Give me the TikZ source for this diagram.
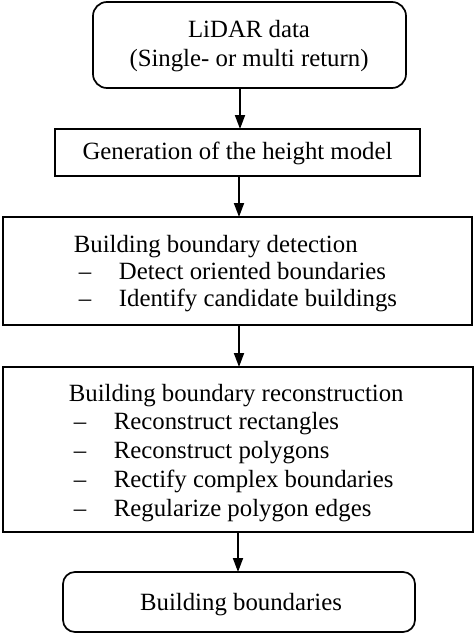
\documentclass[tikz,border=0pt]{standalone}
\usepackage{fontspec}
\setmainfont{Liberation Serif}
\usetikzlibrary{arrows.meta}
\begin{document}
\begin{tikzpicture}[x=1pt,y=-1pt,line width=1.7pt,
  box/.style={draw,inner sep=0pt,outer sep=0pt},
  rbox/.style={box,rounded corners=14pt},
  txt/.style={inner sep=0pt,font=\fontsize{24.8}{29}\selectfont},
  arr/.style={-{Triangle[length=14pt,width=10pt]},line width=1.8pt}]
\useasboundingbox (0,0) rectangle (474,635);
% boxes
\node[rbox,minimum width=313pt,minimum height=86pt] (b1) at (249.5,45) {};
\node[box,minimum width=365pt,minimum height=47pt] (b2) at (237.5,152.5) {};
\node[box,minimum width=469pt,minimum height=108pt] (b3) at (237.5,271) {};
\node[box,minimum width=470pt,minimum height=165pt] (b4) at (238,449.5) {};
\node[rbox,rounded corners=12pt,minimum width=352pt,minimum height=60pt] (b5) at (239,602) {};
% texts
\node[txt,anchor=base] (t1a) at (249,37.5) {LiDAR data};
\node[txt,anchor=base] (t1b) at (249,66.5) {(Single- or multi return)};
\node[txt,anchor=base] (t2) at (237.5,159) {Generation of the height model};
\node[txt,anchor=base west] (t3) at (73,252) {Building boundary detection};
\node[txt,anchor=base west] (d31) at (78,279) {–};
\node[txt,anchor=base west] (i31) at (118,279) {Detect oriented boundaries};
\node[txt,anchor=base west] (d32) at (78,306.5) {–};
\node[txt,anchor=base west] (i32) at (118,306.5) {Identify candidate buildings};
\node[txt,anchor=base west] (t4) at (68,401) {Building boundary reconstruction};
\node[txt,anchor=base west] (d41) at (73,429) {–};
\node[txt,anchor=base west] (i41) at (113,429) {Reconstruct rectangles};
\node[txt,anchor=base west] (d42) at (73,458) {–};
\node[txt,anchor=base west] (i42) at (113,458) {Reconstruct polygons};
\node[txt,anchor=base west] (d43) at (73,487) {–};
\node[txt,anchor=base west] (i43) at (113,487) {Rectify complex boundaries};
\node[txt,anchor=base west] (d44) at (73,516) {–};
\node[txt,anchor=base west] (i44) at (113,516) {Regularize polygon edges};
\node[txt,anchor=base] (t5) at (241,610) {Building boundaries};
% arrows
\coordinate (a1) at (240,0);
\coordinate (a2) at (239,0);
\coordinate (a3) at (239,0);
\coordinate (a4) at (238,0);
\draw[arr] (b1.south -| a1) -- (b2.north -| a1);
\draw[arr] (b2.south -| a2) -- (b3.north -| a2);
\draw[arr] (b3.south -| a3) -- (b4.north -| a3);
\draw[arr] (b4.south -| a4) -- (b5.north -| a4);
\end{tikzpicture}
\end{document}
